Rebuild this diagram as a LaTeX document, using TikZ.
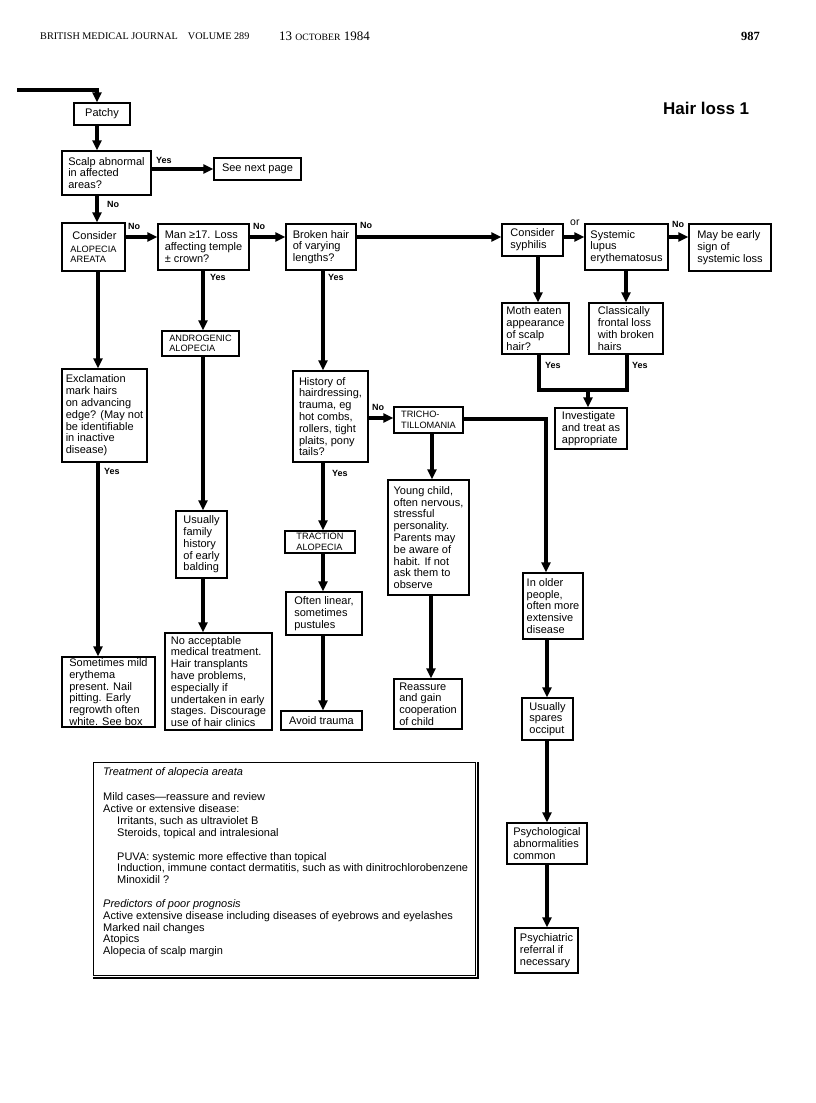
\documentclass[tikz,border=0pt]{standalone}
\usepackage{fontspec}
\setmainfont{Liberation Sans}
\newfontfamily\hdrserif{Liberation Serif}
\usetikzlibrary{arrows.meta,calc}
\newcommand\boxfont{\fontsize{11}{11.8}\selectfont}
\newcommand\capfont{\fontsize{9.2}{10.5}\selectfont}
\newcommand\lblfont{\fontsize{9}{10}\selectfont\bfseries}
\newcommand\treatfont{\fontsize{11}{11.8}\selectfont}
\begin{document}
\begin{tikzpicture}[x=1pt,y=-1pt,
  box/.style={draw, line width=1.4pt, inner xsep=1.5pt, inner ysep=1pt, font=\boxfont, align=left},
  wh/.style 2 args={minimum width=#1pt, minimum height=#2pt},
  conn/.style={line width=3.4pt, line join=miter},
  arr/.style={conn, -{Triangle[length=10pt,width=9pt]}},
  lbl/.style={font=\lblfont, inner sep=0pt, anchor=west}]
\useasboundingbox[fill=white] (0,0) rectangle (816,1103);

% header
\node[anchor=west, inner sep=0pt] (hdr) at (40,36) {\hdrserif\fontsize{10.2}{12}\selectfont BRITISH MEDICAL JOURNAL\hspace{10pt}VOLUME 289};
\node[anchor=west, inner sep=0pt] (hdrdate) at (279,36) {\hdrserif\fontsize{13}{14}\selectfont 13 {\fontsize{9.7}{10}\selectfont OCTOBER} 1984};
\node[anchor=east, inner sep=0pt] (pageno) at (760,36) {\hdrserif\bfseries\fontsize{12.5}{14}\selectfont 987};
\node[anchor=west, inner sep=0pt, font=\fontsize{17}{20}\selectfont\bfseries] (title) at (663,108) {Hair loss 1};

% boxes
\node[box, wh={56}{22}, align=center] (patchy) at (102,114) {Patchy};
\node[box, wh={89}{44}] (scalp) at (106.5,173) {Scalp abnormal\\in affected\\areas?};
\node[box, wh={87}{22}, align=center] (next) at (257.5,169) {See next page};
\node[box, wh={63}{48}] (consider) at (93.5,247) {\hspace*{2pt}Consider\\[1pt]{\capfont ALOPECIA}\\[-2pt]{\capfont AREATA}};
\node[box, wh={91}{46}] (man) at (203.5,247) {Man ≥17. Loss\\affecting temple\\± crown?};
\node[box, wh={70}{46}] (broken) at (321,247) {Broken hair\\of varying\\lengths?};
\node[box, wh={61}{32}] (syph) at (532.5,240) {Consider\\syphilis};
\node[box, wh={83}{46}] (sle) at (626.5,247) {Systemic\\lupus\\erythematosus};
\node[box, wh={82}{47}] (may) at (730,247.5) {May be early\\sign of\\systemic loss};
\node[box, wh={67}{51}] (moth) at (535.5,328.5) {Moth eaten\\appearance\\of scalp\\hair?};
\node[box, wh={74}{51}] (classic) at (626,328.5) {Classically\\frontal loss\\with broken\\hairs};
\node[box, wh={72}{41}] (invest) at (591,428.5) {Investigate\\and treat as\\appropriate};
\node[box, wh={77}{25}, font=\capfont] (andro) at (200.5,343.5) {ANDROGENIC\\ALOPECIA};
\node[box, wh={85}{93}] (excl) at (104.5,415.5) {Exclamation\\mark hairs\\on advancing\\edge? (May not\\be identifiable\\in inactive\\disease)};
\node[box, wh={75}{91}] (hist) at (330.5,416.5) {History of\\hairdressing,\\trauma, eg\\hot combs,\\rollers, tight\\plaits, pony\\tails?};
\node[box, wh={69}{26}, font=\capfont] (trich) at (428.5,420) {TRICHO-\\TILLOMANIA};
\node[box, wh={81}{115}] (young) at (428.5,537.5) {Young child,\\often nervous,\\stressful\\personality.\\Parents may\\be aware of\\habit. If not\\ask them to\\observe};
\node[box, wh={68}{50}] (reass) at (428,704) {Reassure\\and gain\\cooperation\\of child};
\node[box, wh={60}{66}] (older) at (553,606) {In older\\people,\\often more\\extensive\\disease};
\node[box, wh={51}{42}] (spares) at (547.5,719) {Usually\\spares\\occiput};
\node[box, wh={80}{41}] (psychol) at (547,843.5) {Psychological\\abnormalities\\common};
\node[box, wh={63}{45}] (psychi) at (546.5,950.5) {Psychiatric\\referral if\\necessary};
\node[box, wh={51}{67}] (family) at (201.5,544.5) {Usually\\family\\history\\of early\\balding};
\node[box, wh={107}{97}] (noacc) at (218.5,681.5) {No acceptable\\medical treatment.\\Hair transplants\\have problems,\\especially if\\undertaken in early\\stages. Discourage\\use of hair clinics};
\node[box, wh={93}{70}] (sometimes) at (108.5,692) {Sometimes mild\\erythema\\present. Nail\\pitting. Early\\regrowth often\\white. See box};
\node[box, wh={70}{22}, font=\capfont] (traction) at (320,542) {TRACTION\\ALOPECIA};
\node[box, wh={76}{43}] (often) at (324,613.5) {Often linear,\\sometimes\\pustules};
\node[box, wh={81}{19}, align=center] (avoid) at (321.5,720.5) {Avoid trauma};

% treatment box
\node[draw, line width=1.3pt, anchor=north west, inner sep=0pt, minimum width=382pt, minimum height=213pt] (treatbox) at (93,762) {};
\draw[line width=1.6pt] ($(treatbox.north east)+(1.4,0)$) -- ($(treatbox.south east)+(1.4,1.4)$) -- ($(treatbox.south west)+(0,1.4)$);
\node[anchor=north west, inner sep=0pt, align=left, font=\treatfont] (treattext) at (103,767) {\textit{Treatment of alopecia areata}\\[14pt]
Mild cases—reassure and review\\
Active or extensive disease:\\
\hspace*{14pt}Irritants, such as ultraviolet B\\
\hspace*{14pt}Steroids, topical and intralesional\\[12pt]
\hspace*{14pt}PUVA: systemic more effective than topical\\
\hspace*{14pt}Induction, immune contact dermatitis, such as with dinitrochlorobenzene\\
\hspace*{14pt}Minoxidil ?\\[12pt]
\textit{Predictors of poor prognosis}\\
Active extensive disease including diseases of eyebrows and eyelashes\\
Marked nail changes\\
Atopics\\
Alopecia of scalp margin};

% connectors
\coordinate (start) at (17,90);
\draw[arr] (start) -| (patchy.north -| 97,0);
\draw[arr] (patchy.south -| 97,0) -- (scalp.north -| 97,0);
\draw[arr] (scalp.east |- next.west) -- (next.west);
\draw[arr] (scalp.south -| 97,0) -- (consider.north -| 97,0);
\draw[arr] (consider.east |- 0,237) -- (man.west |- 0,237);
\draw[arr] (man.east |- 0,237) -- (broken.west |- 0,237);
\draw[arr] (broken.east |- 0,237) -- (syph.west |- 0,237);
\draw[arr] (syph.east |- 0,237) -- (sle.west |- 0,237);
\draw[arr] (sle.east |- 0,237) -- (may.west |- 0,237);
\draw[arr] (syph.south -| 538,0) -- (moth.north -| 538,0);
\draw[arr] (sle.south -| 626,0) -- (classic.north -| 626,0);
\coordinate (join) at (588,390);
\draw[conn] (moth.south -| 539,0) |- (join);
\draw[conn] (classic.south -| 627,0) |- (join);
\draw[arr] (join) -- (invest.north -| 588,0);
\draw[arr] (man.south -| 203,0) -- (andro.north -| 203,0);
\draw[arr] (andro.south -| 203,0) -- (family.north -| 203,0);
\draw[arr] (family.south -| 203,0) -- (noacc.north -| 203,0);
\draw[arr] (consider.south -| 98,0) -- (excl.north -| 98,0);
\draw[arr] (excl.south -| 98,0) -- (sometimes.north -| 98,0);
\draw[arr] (broken.south -| 323,0) -- (hist.north -| 323,0);
\draw[arr] (hist.east |- 0,418) -- (trich.west |- 0,418);
\draw[arr] (hist.south -| 323,0) -- (traction.north -| 323,0);
\draw[arr] (traction.south -| 323,0) -- (often.north -| 323,0);
\draw[arr] (often.south -| 323,0) -- (avoid.north -| 323,0);
\draw[arr] (trich.south -| 432,0) -- (young.north -| 432,0);
\draw[arr] (young.south -| 431,0) -- (reass.north -| 431,0);
\draw[arr] (trich.east |- 0,419) -| (older.north -| 546,0);
\draw[arr] (older.south -| 547,0) -- (spares.north -| 547,0);
\draw[arr] (spares.south -| 547,0) -- (psychol.north -| 547,0);
\draw[arr] (psychol.south -| 547,0) -- (psychi.north -| 547,0);

% labels
\node[lbl] (l1) at (156,160) {Yes};
\node[lbl] (l2) at (107,204) {No};
\node[lbl] (l3) at (128,226) {No};
\node[lbl] (l4) at (253,226) {No};
\node[lbl] (l5) at (360,225) {No};
\node[lbl, font=\fontsize{10.5}{12}\selectfont] (l6) at (570,223) {or};
\node[lbl] (l7) at (672,224) {No};
\node[lbl] (l8) at (210,277) {Yes};
\node[lbl] (l9) at (328,277) {Yes};
\node[lbl] (l10) at (104,471) {Yes};
\node[lbl] (l11) at (372,407) {No};
\node[lbl] (l12) at (332,473) {Yes};
\node[lbl] (l13) at (545,365) {Yes};
\node[lbl] (l14) at (632,365) {Yes};
\end{tikzpicture}
\end{document}
